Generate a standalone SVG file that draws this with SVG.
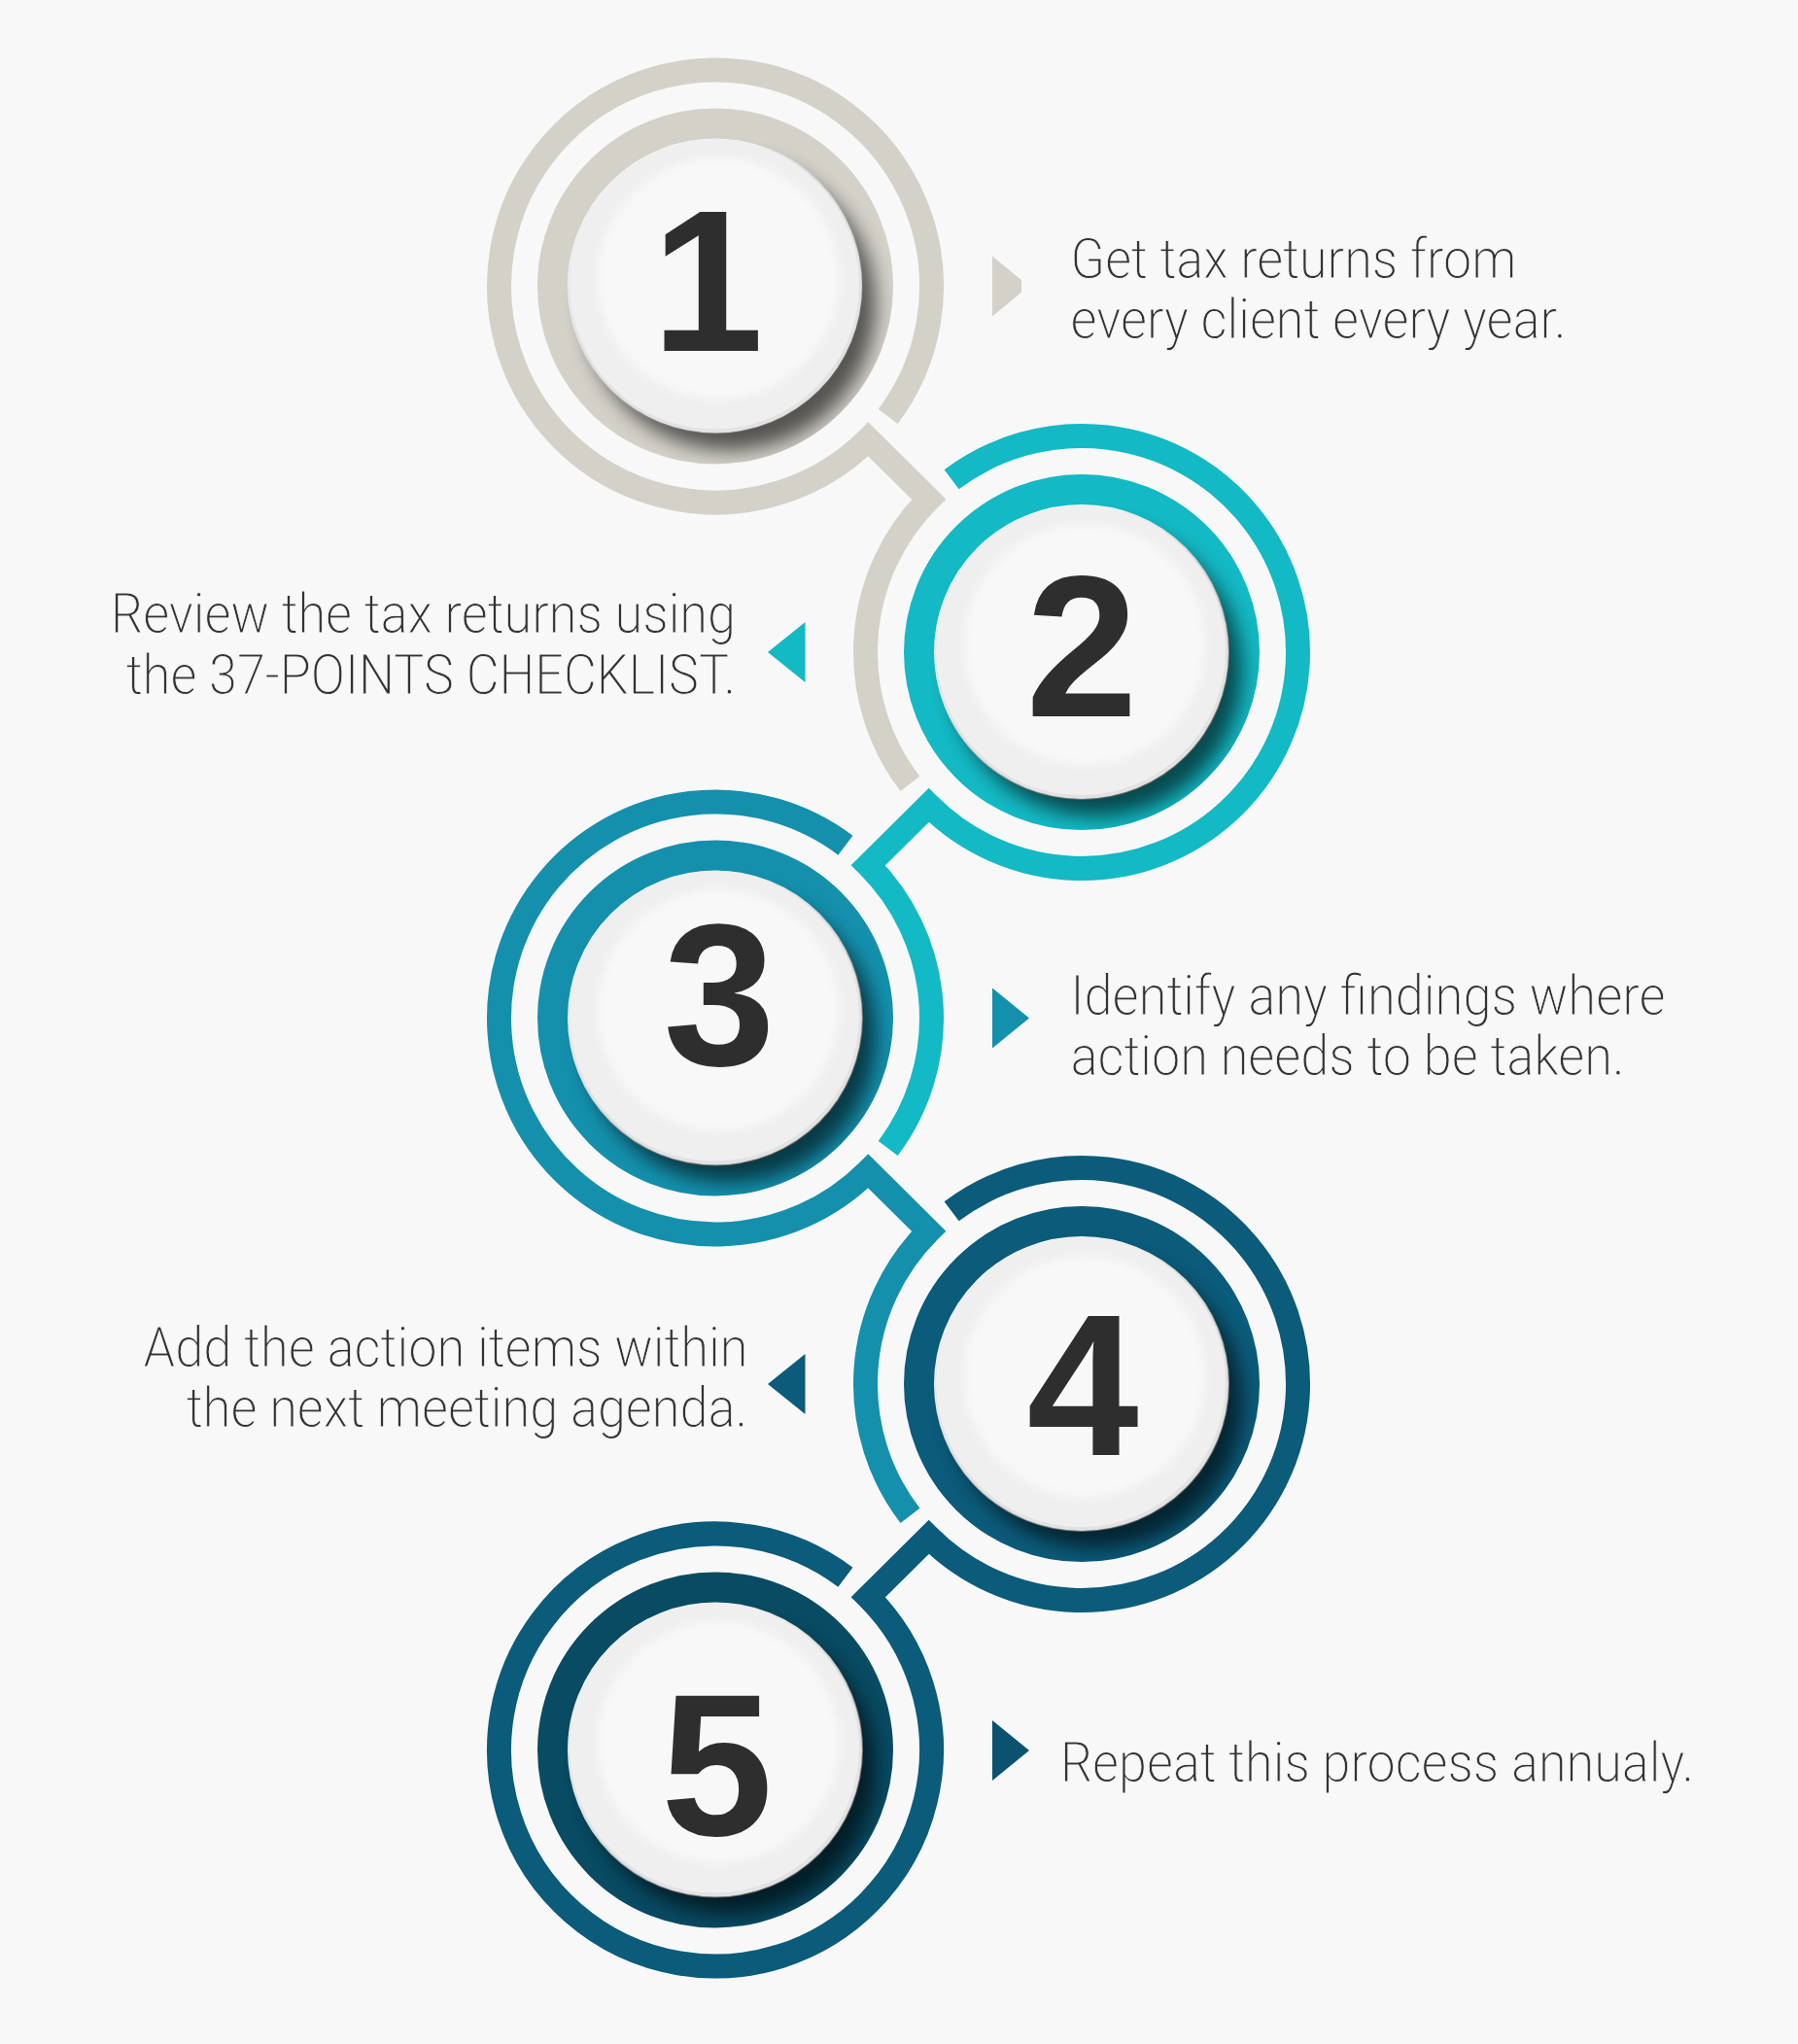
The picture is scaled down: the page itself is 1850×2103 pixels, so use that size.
<svg xmlns="http://www.w3.org/2000/svg" width="1850" height="2103" viewBox="0 0 1850 2103">
<defs>
<style>
.ring{fill:none;stroke-width:25;stroke-linejoin:miter;stroke-miterlimit:10;stroke-linecap:butt}
.inner{fill:none;stroke-width:31}
.num{font-family:"Liberation Sans",Arial,sans-serif;font-weight:700;font-size:207px;fill:#2e2e2e;text-anchor:middle}
.lbl{font-family:"Roboto Light",Roboto,"Liberation Sans",sans-serif;font-weight:300;font-size:58px;fill:#333333;stroke:#f8f8f8;stroke-width:0.8px;paint-order:fill}
.rim{fill:#e2e2e2}
.face{fill:#efefef}
.top{fill:#f8f8f8}
</style>
<filter id="sh" x="-50%" y="-50%" width="200%" height="200%"><feGaussianBlur stdDeviation="10"/></filter>
<filter id="soft" x="-20%" y="-20%" width="140%" height="140%"><feGaussianBlur stdDeviation="4"/></filter>
<clipPath id="clipR"><circle cx="0" cy="0" r="183"/></clipPath>
<g id="disc">
<g clip-path="url(#clipR)"><circle cx="15" cy="19" r="150" fill="#000" opacity="0.6" filter="url(#sh)"/></g>
<circle class="rim" cx="0" cy="0" r="151"/>
<circle class="face" cx="-1" cy="-2" r="149"/>
<circle class="top" cx="3" cy="-8" r="124" filter="url(#soft)"/>
</g>
</defs>
<rect x="0" y="0" width="1850" height="2103" fill="#f8f8f8"/>

<g id="connectors">
<path class="ring" stroke="#d4d1c9" d="M913.7,428.4 A222.5,222.5 0 1 0 893.33,451.83 L955.67,513.67 A222.5,222.5 0 0 0 936.48,806.45"/>
<path class="ring" stroke="#13b9c4" d="M979.1,493.3 A222.5,222.5 0 1 1 955.67,828.33 L893.33,890.17 A222.5,222.5 0 0 1 913.7,1181.4"/>
<path class="ring" stroke="#1490ad" d="M869.9,869.8 A222.5,222.5 0 1 0 893.33,1204.83 L955.67,1266.67 A222.5,222.5 0 0 0 936.48,1559.45"/>
<path class="ring" stroke="#0b5b7a" d="M979.1,1246.3 A222.5,222.5 0 1 1 955.67,1581.33 L893.33,1643.17 A222.5,222.5 0 1 1 869.9,1622.8"/>
</g>

<g id="node-1">
<g transform="translate(736,294.5)">
<circle class="inner" r="167.5" stroke="#d4d1c9"/>
<use href="#disc"/>
<text class="num" x="-8" y="66.5">1</text>
</g>
<polygon points="1021,263.5 1051,288.3 1051,300.7 1021,325.5" fill="#d4d1c9"/>
<text class="lbl" x="1101.5" y="286" textLength="459" lengthAdjust="spacingAndGlyphs">Get tax returns from</text>
<text class="lbl" x="1101.5" y="348" textLength="510" lengthAdjust="spacingAndGlyphs">every client every year.</text>
</g>

<g id="node-2">
<g transform="translate(1113,671)">
<circle class="inner" r="167.5" stroke="#13b9c4"/>
<use href="#disc"/>
<text class="num" x="0" y="66">2</text>
</g>
<polygon points="828.5,640 828.5,702 790,671" fill="#13b9c4"/>
<text class="lbl" x="114" y="651" textLength="643" lengthAdjust="spacingAndGlyphs">Review the tax returns using</text>
<text class="lbl" x="130" y="714" textLength="627" lengthAdjust="spacingAndGlyphs">the 37-POINTS CHECKLIST.</text>
</g>

<g id="node-3">
<g transform="translate(736,1047.5)">
<circle class="inner" r="167.5" stroke="#1490ad"/>
<use href="#disc"/>
<text class="num" x="4" y="48">3</text>
</g>
<polygon points="1021,1016.5 1021,1078.5 1059,1047.5" fill="#1490ad"/>
<text class="lbl" x="1101.5" y="1044" textLength="612" lengthAdjust="spacingAndGlyphs">Identify any findings where</text>
<text class="lbl" x="1101.5" y="1105.5" textLength="570" lengthAdjust="spacingAndGlyphs">action needs to be taken.</text>
</g>

<g id="node-4">
<g transform="translate(1113,1424)">
<circle class="inner" r="167.5" stroke="#0b5b7a"/>
<use href="#disc"/>
<text class="num" x="1" y="73">4</text>
</g>
<polygon points="828.5,1393 828.5,1455 790,1424" fill="#0b5b7a"/>
<text class="lbl" x="147.6" y="1406" textLength="622" lengthAdjust="spacingAndGlyphs">Add the action items within</text>
<text class="lbl" x="192" y="1468" textLength="577" lengthAdjust="spacingAndGlyphs">the next meeting agenda.</text>
</g>

<g id="node-5">
<g transform="translate(736,1800.5)">
<circle class="inner" r="167.5" stroke="#084b63"/>
<use href="#disc"/>
<text class="num" x="1.5" y="87.5">5</text>
</g>
<polygon points="1021,1770 1021,1832 1059,1801" fill="#0a5270"/>
<text class="lbl" x="1091" y="1832.5" textLength="652" lengthAdjust="spacingAndGlyphs">Repeat this process annualy.</text>
</g>
</svg>
